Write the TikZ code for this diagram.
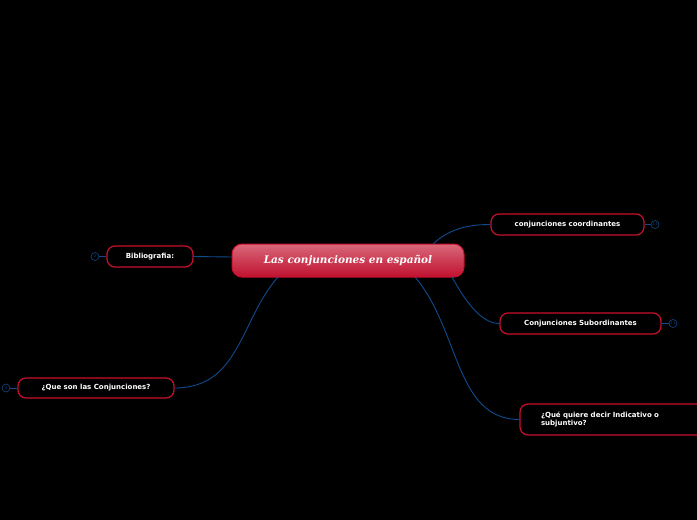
\documentclass[tikz,border=0pt]{standalone}
\usepackage{fontspec}
\setmainfont{DejaVu Sans}
\newfontfamily\titlefont{DejaVu Serif}
\definecolor{lnblue}{HTML}{0E4C8E}
\definecolor{cntblue}{HTML}{123F73}
\definecolor{bord}{HTML}{C8102E}
\definecolor{topr}{HTML}{D9687A}
\definecolor{botr}{HTML}{C0112F}
\begin{document}
\begin{tikzpicture}[x=1pt,y=-1pt,
  sub/.style={draw=bord,line width=1.2pt,rounded corners=8pt,fill=black,text=white,font=\bfseries\fontsize{7}{8.5}\selectfont,inner sep=0pt,anchor=center},
  conn/.style={draw=lnblue,line width=0.9pt},
  cnt/.style={circle,draw=cntblue,line width=0.7pt,minimum size=8pt,inner sep=0pt,text=cntblue,font=\fontsize{4}{4}\selectfont}]
\fill[black] (0,0) rectangle (697,520);
\useasboundingbox (0,0) rectangle (697,520);
\node[rounded corners=10pt,draw=bord,line width=1pt,top color=topr,bottom color=botr,minimum width=232pt,minimum height=33pt,text=white,font=\titlefont\bfseries\itshape\fontsize{10.5}{12}\selectfont] (c) at (348,260.5) {Las conjunciones en español};
\node[sub,minimum width=153pt,minimum height=21pt] (a) at (567.5,224.5) {conjunciones coordinantes};
\node[sub,minimum width=161pt,minimum height=21pt] (b) at (580.5,323.5) {Conjunciones Subordinantes};
\node[sub,minimum width=200pt,minimum height=31pt,text width=190pt,align=left] (q) at (620,419.5) {\hspace*{16pt}¿Qué quiere decir Indicativo o\\\hspace*{16pt}subjuntivo?};
\node[sub,minimum width=86pt,minimum height=21pt] (bib) at (150,256.5) {Bibliografia:};
\node[sub,minimum width=156pt,minimum height=20pt] (qs) at (96,388) {¿Que son las Conjunciones?};
\node[cnt] (ka) at (655,224.5) {21};
\node[cnt] (kb) at (673,323.5) {11};
\node[cnt] (kbib) at (95,256.5) {2};
\node[cnt] (kqs) at (6,388) {4};
\draw[conn] (a.east) -- (ka);
\draw[conn] (b.east) -- (kb);
\draw[conn] (bib.west) -- (kbib);
\draw[conn] (qs.west) -- (kqs);
\coordinate (c1) at (433,244);
\coordinate (c2) at (452,277);
\coordinate (c3) at (415,277);
\coordinate (c4) at (278,277);
\coordinate (c5) at (232,257);
\draw[conn] (c1) .. controls (450,228) and (470,224.5) .. (a.west);
\draw[conn] (c2) .. controls (470,310) and (485,323.5) .. (b.west);
\draw[conn] (c3) .. controls (460,330) and (455,419.5) .. (q.west);
\draw[conn] (c4) .. controls (240,320) and (240,388) .. (qs.east);
\draw[conn] (c5) -- (bib.east);
\end{tikzpicture}
\end{document}
